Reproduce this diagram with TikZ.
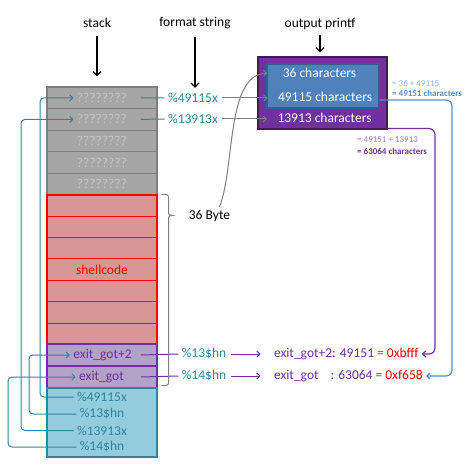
\documentclass[tikz,border=0pt]{standalone}
\usepackage{fontspec}
\setmainfont{Carlito}
\usetikzlibrary{arrows.meta,calc}
\definecolor{gfill}{HTML}{A6A6A6}
\definecolor{gdraw}{HTML}{7F7F7F}
\definecolor{qtext}{HTML}{C4C4C4}
\definecolor{rfill}{HTML}{DA9694}
\definecolor{pfill}{HTML}{B3A2C7}
\definecolor{purp}{HTML}{7030A0}
\definecolor{lpurp}{HTML}{A47FCB}
\definecolor{bfill}{HTML}{93CDDD}
\definecolor{teal}{HTML}{31859C}
\definecolor{obdraw}{HTML}{3F1A5E}
\definecolor{ibfill}{HTML}{4F81BD}
\definecolor{ibdraw}{HTML}{385D8A}
\definecolor{bline}{HTML}{558ED5}
\definecolor{lblue}{HTML}{8EB4E3}
\begin{document}
\begin{tikzpicture}[x=1bp,y=-1bp,
  font=\fontsize{13.5bp}{16bp}\selectfont,
  cell/.style={draw, line width=1.2bp, minimum width=110bp, inner sep=0pt},
  graycell/.style={cell, fill=gfill, draw=gdraw, minimum height=21.6bp},
  qmark/.style={text=qtext},
  purcell/.style={cell, fill=pfill, draw=purp, minimum height=22bp},
  tealtxt/.style={text=teal},
  loop/.style={draw=teal, line width=1bp, rounded corners=4bp, -{Straight Barb[length=3bp,width=6bp]}},
  tealline/.style={draw=teal, line width=1bp},
  grayarrow/.style={draw=gdraw, line width=1bp, -{Straight Barb[length=3bp,width=6bp]}},
  toparrow/.style={draw=black, line width=1.2bp, -{Straight Barb[length=4bp,width=8bp]}},
  purarrow/.style={draw=purp, line width=1bp, -{Straight Barb[length=3bp,width=6bp]}},
  small/.style={font=\fontsize{9bp}{11bp}\selectfont, inner sep=0pt, anchor=west}
]
\useasboundingbox (0,0) rectangle (474,474);

% headings
\node (hs) at (97,23) {stack};
\node (hf) at (195,23) {format string};
\node (ho) at (320,24) {output printf};

% stack: gray rows
\node[graycell] (r1) at (102,97.8) {};
\node[graycell] (r2) at (102,119.4) {};
\node[graycell] (r3) at (102,141) {};
\node[graycell] (r4) at (102,162.6) {};
\node[graycell] (r5) at (102,184.2) {};
\node[qmark] (q1) at (r1) {????????};
\node[qmark] (q2) at (r2) {????????};
\node[qmark] (q3) at (r3) {????????};
\node[qmark] (q4) at (r4) {????????};
\node[qmark] (q5) at (r5) {????????};

% shellcode block
\node[cell, fill=rfill, draw=red, minimum height=149bp, text=red] (sc) at (102,269.5) {shellcode};
\foreach \k in {1,...,6}
  \draw[red, line width=0.7bp] ($(sc.north west)!\k/7!(sc.south west)$) -- ($(sc.north east)!\k/7!(sc.south east)$);
\node[cell, draw=red, minimum height=149bp] at (sc) {};

% purple rows
\node[purcell] (p1) at (102,355) {};
\node[purcell] (p2) at (102,377) {};
\node[text=purp] (e1) at (102.5,355) {exit\_got+2};
\node[text=purp] (e2) at (101.5,377) {exit\_got};

% blue block
\node[cell, fill=bfill, draw=teal, minimum height=69bp] (bl) at (102,422.5) {};
\node[tealtxt] (b1) at (102,397) {\%49115x};
\node[tealtxt] (b2) at (102,414) {\%13\$hn};
\node[tealtxt] (b3) at (102,430.5) {\%13913x};
\node[tealtxt] (b4) at (102,447) {\%14\$hn};

% lanes
\coordinate (L1) at (40,0);
\coordinate (L2) at (29,0);
\coordinate (L3) at (21,0);
\coordinate (L4) at (8,0);
\coordinate (rs) at (141,0);
\coordinate (LB) at (452,0);
\coordinate (LP) at (435,0);

\draw[loop] (b1.west) -- (b1.west -| L1) -- (q1.west -| L1) -- (q1.west);
\draw[loop] (b2.west) -- (b2.west -| L2) -- (e1.west -| L2) -- (e1.west);
\draw[loop] (b3.west) -- (b3.west -| L3) -- (q2.west -| L3) -- (q2.west);
\draw[loop] (b4.west) -- (b4.west -| L4) -- (e2.west -| L4) -- (e2.west);

% format string column
\node[tealtxt] (f1) at (193,98) {\%49115x};
\node[tealtxt] (f2) at (193,119) {\%13913x};
\draw[tealline] (q1.east -| rs) -- (f1.west);
\draw[tealline] (q2.east -| rs) -- (f2.west);

\node[tealtxt] (h1) at (204,354) {\%13\$hn};
\node[tealtxt] (h2) at (204,376) {\%14\$hn};
\draw[draw=purp, line width=1bp] (e1.east -| rs) -- (h1.west);
\draw[draw=purp, line width=1bp] (e2.east -| rs) -- (h2.west);

% brace
\coordinate (bt) at ($(sc.north east)+(4,0)$);
\coordinate (bb) at ($(p2.south east)+(4,-3)$);
\draw[gdraw, line width=1bp]
  (bt) .. controls ($(bt)+(7,0)$) .. ($(bt)+(7,6)$) -- ($(bt)+(7,16)$)
  .. controls ($(bt)+(7,20.5)$) .. ($(bt)+(11,21)$)
  .. controls ($(bt)+(7,21.5)$) .. ($(bt)+(7,26)$) -- ($(bb)+(7,-6)$)
  .. controls ($(bb)+(7,0)$) .. (bb);
\node (by) at (209.5,216) {36 Byte};

% output box
\node[draw=obdraw, line width=1.2bp, fill=purp, minimum width=129bp, minimum height=72bp, inner sep=0pt] (ob) at (322.5,93) {};
\node[draw=ibdraw, line width=1.2bp, fill=ibfill, minimum width=112bp, minimum height=44bp, inner sep=0pt] (ib) at (323,86) {};
\node[text=white] (t1) at (319.5,73) {36 characters};
\node[text=white] (t2) at (325,97) {49115 characters};
\node[text=white] (t3) at (324.5,118) {13913 characters};

% top arrows
\draw[toparrow, shorten <=5bp, shorten >=10bp] (hs.south) -- (hs.south |- r1.north);
\draw[toparrow, shorten <=5bp, shorten >=2bp] (hf.south) -- (hf.south |- f1.north);
\draw[toparrow, shorten <=2bp, shorten >=4bp] (ho.south) -- (ho.south |- ob.north);

% gray arrows to output
\draw[grayarrow, shorten <=1bp, shorten >=7bp] (f1.east) -- (f1.east -| t2.west);
\draw[grayarrow, shorten <=1bp, shorten >=7bp] (f2.east) -- (f2.east -| t3.west);
\draw[grayarrow, shorten >=12bp] ([xshift=10bp]by.north) .. controls (235,168) and (226,74) .. (t1.west);

% results
\node[text=purp, anchor=west] (w1) at (270.5,354) {exit\_got+2: 49151 = \textcolor{red}{0xbfff}};
\node[text=purp, anchor=west] (w2) at (270.5,376) {exit\_got\hspace{12bp}: 63064 = \textcolor{red}{0xf658}};
\draw[purarrow, shorten <=1bp, shorten >=10bp] (h1.east) -- (w1.west);
\draw[purarrow, shorten <=1bp, shorten >=10bp] (h2.east) -- (w2.west);

\draw[draw=bline, line width=1.2bp, rounded corners=6bp, -{Straight Barb[length=3bp,width=6bp]}]
  ($(t2.east -| ib.east)+(0,3)$) -- ($(t2.east -| LB)+(0,3)$) -- (w2.east -| LB) -- (w2.east);
\draw[draw=purp, line width=1.2bp, rounded corners=6bp, -{Straight Barb[length=3bp,width=6bp]}]
  ($(ob.south east)+(0,-1)$) -- ($(ob.south east -| LP)+(0,-1)$) -- (w1.east -| LP) -- (w1.east);

% sum labels
\node[small, text=lblue] (s1) at (392,83) {= 36 + 49115};
\node[small, text=bline, font=\fontsize{9bp}{11bp}\selectfont\bfseries] (s2) at (392,93) {= 49151 characters};
\node[small, text=lpurp] (s3) at (357,140) {= 49151 + 13913};
\node[small, text=purp, font=\fontsize{9bp}{11bp}\selectfont\bfseries] (s4) at (357,151) {= 63064 characters};
\end{tikzpicture}
\end{document}
